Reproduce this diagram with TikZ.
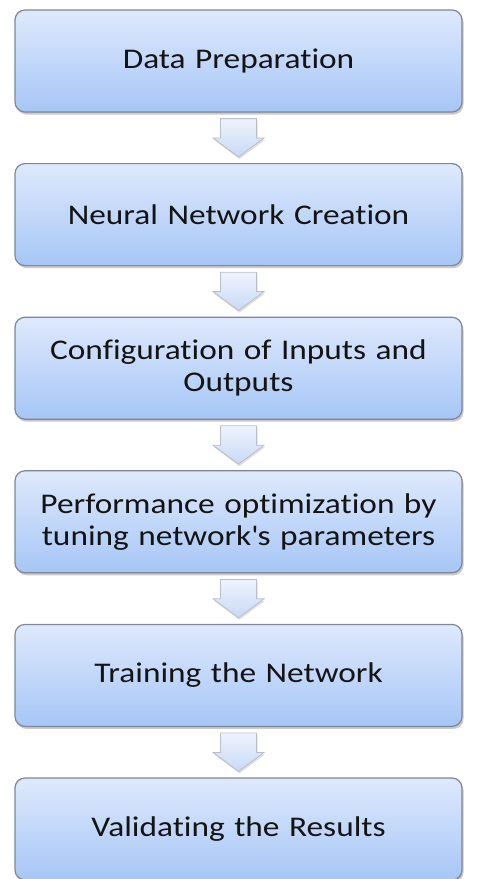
\documentclass[tikz,border=0pt]{standalone}
\usepackage{fontspec}
\setmainfont{Carlito}[Ligatures={NoCommon},FakeStretch=1.17]
\usetikzlibrary{shadows,calc}
\definecolor{boxtop}{RGB}{222,233,252}
\definecolor{boxbot}{RGB}{166,198,246}
\definecolor{boxline}{RGB}{125,135,150}
\definecolor{arrtop}{RGB}{238,243,253}
\definecolor{arrbot}{RGB}{200,217,246}
\definecolor{arrline}{RGB}{185,190,198}
\definecolor{txt}{RGB}{20,20,20}
\tikzset{
  stepbox/.style={draw=boxline, line width=1.2pt, rounded corners=10pt,
    top color=boxtop, bottom color=boxbot,
    minimum width=447pt, minimum height=102pt, text width=440pt, align=center,
    font=\fontsize{28.5}{32}\selectfont, text=txt, inner sep=0pt,
    drop shadow={shadow xshift=1.5pt, shadow yshift=-2.5pt, opacity=0.35, fill=black!60}},
  blockarrow/.style={draw=arrline, line width=0.8pt, top color=arrtop, bottom color=arrbot,
    drop shadow={shadow xshift=1pt, shadow yshift=-2pt, opacity=0.25}}
}
\begin{document}
\begin{tikzpicture}[x=1pt,y=-1pt]
\useasboundingbox (0,0) rectangle (478,879);
\node[stepbox] (b1) at (238.5,61) {Data Preparation};
\node[stepbox] (b2) at (238.5,214.6) {Neural Network Creation};
\node[stepbox] (b3) at (238.5,368.2) {Configuration of Inputs and\\Outputs};
\node[stepbox] (b4) at (238.5,521.8) {Performance optimization by\\tuning network\textquotesingle s parameters};
\node[stepbox] (b5) at (238.5,675.4) {Training the Network};
\node[stepbox] (b6) at (238.5,829) {Validating the Results};
\foreach \a/\b in {b1/b2,b2/b3,b3/b4,b4/b5,b5/b6}{
  \draw[blockarrow] let \p1=(\a.south), \p2=(\b.north) in
    (\x1-18pt,\y1-6pt) -- (\x1+18pt,\y1-6pt) -- (\x1+18pt,\y2+25pt) --
    (\x1+25.5pt,\y2+25pt) -- (\x1,\y2+6pt) -- (\x1-25.5pt,\y2+25pt) --
    (\x1-18pt,\y2+25pt) -- cycle;
}
\end{tikzpicture}
\end{document}
